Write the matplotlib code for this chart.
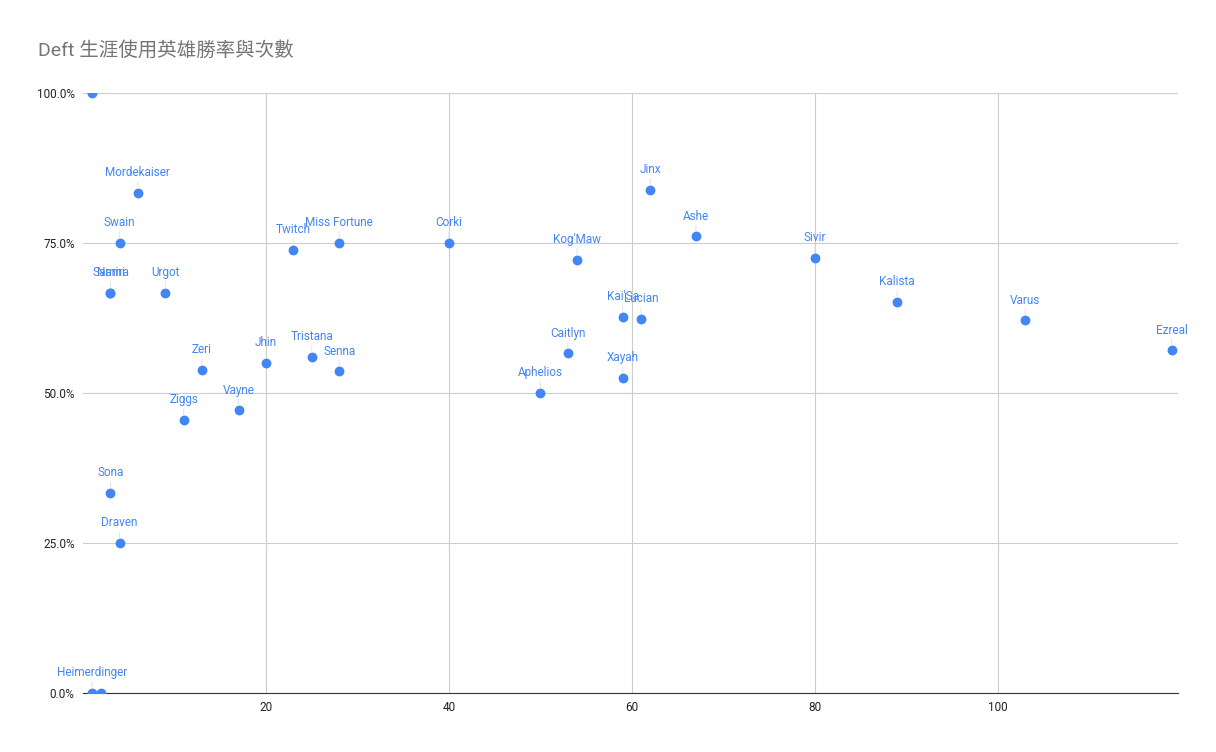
import matplotlib
matplotlib.use("Agg")
import matplotlib.pyplot as plt
from matplotlib.ticker import FuncFormatter

plt.rcParams['font.family'] = ['Roboto', 'Noto Sans CJK TC', 'DejaVu Sans']

names = ["", "Mordekaiser", "Swain", "Nami", "Samira", "Urgot", "Twitch", "Miss Fortune", "Corki",
         "Kog'Maw", "Jinx", "Ashe", "Sivir", "Kalista", "Varus", "Ezreal", "Kai'Sa", "Lucian",
         "Caitlyn", "Xayah", "Aphelios", "Zeri", "Jhin", "Tristana", "Senna", "Vayne", "Ziggs",
         "Sona", "Draven", "Heimerdinger", ""]
games = [1, 6, 4, 3, 3, 9, 23, 28, 40, 54, 62, 67, 80, 89, 103, 119, 59, 61, 53, 59, 50,
         13, 20, 25, 28, 17, 11, 3, 4, 1, 2]
winrate = [1.0, 0.833, 0.75, 0.667, 0.667, 0.667, 0.739, 0.75, 0.75, 0.722, 0.839, 0.761,
           0.725, 0.652, 0.621, 0.571, 0.627, 0.623, 0.566, 0.525, 0.5, 0.538, 0.55, 0.56,
           0.536, 0.471, 0.455, 0.333, 0.25, 0.0, 0.0]

fig = plt.figure(figsize=(12.16, 7.52), dpi=100)
ax = fig.add_axes([83/1216, 1-693/752, (1178-83)/1216, 600/752])
blue = '#4285f4'
ax.scatter(games, winrate, s=50, color=blue, zorder=3, clip_on=True, linewidths=0)
for n, x, y in zip(names, games, winrate):
    if not n:
        continue
    ax.annotate(n, (x, y), xytext=(0, 10), textcoords='offset points', ha='center', va='bottom',
                fontsize=8.5, color=blue,
                arrowprops=dict(arrowstyle='-', color='#e6e6e6', lw=0.8, shrinkA=0, shrinkB=4))
ax.set_xlim(0, 119.7)
ax.set_ylim(0, 1.0)
ax.set_xticks([20, 40, 60, 80, 100])
ax.set_yticks([0, 0.25, 0.5, 0.75, 1.0])
ax.yaxis.set_major_formatter(FuncFormatter(lambda v, p: f"{v*100:.1f}%"))
ax.grid(True, color='#cccccc', lw=0.8)
ax.set_axisbelow(True)
for s in ['top', 'right', 'left']:
    ax.spines[s].set_visible(False)
ax.spines['bottom'].set_color('#333333')
ax.tick_params(length=0, labelsize=8.5, colors='#222222', pad=6)
fig.text(38/1216, 1-50/752, "Deft 生涯使用英雄勝率與次數", fontsize=14, color='#757575', va='center')
fig.savefig("out.png", dpi=100)
